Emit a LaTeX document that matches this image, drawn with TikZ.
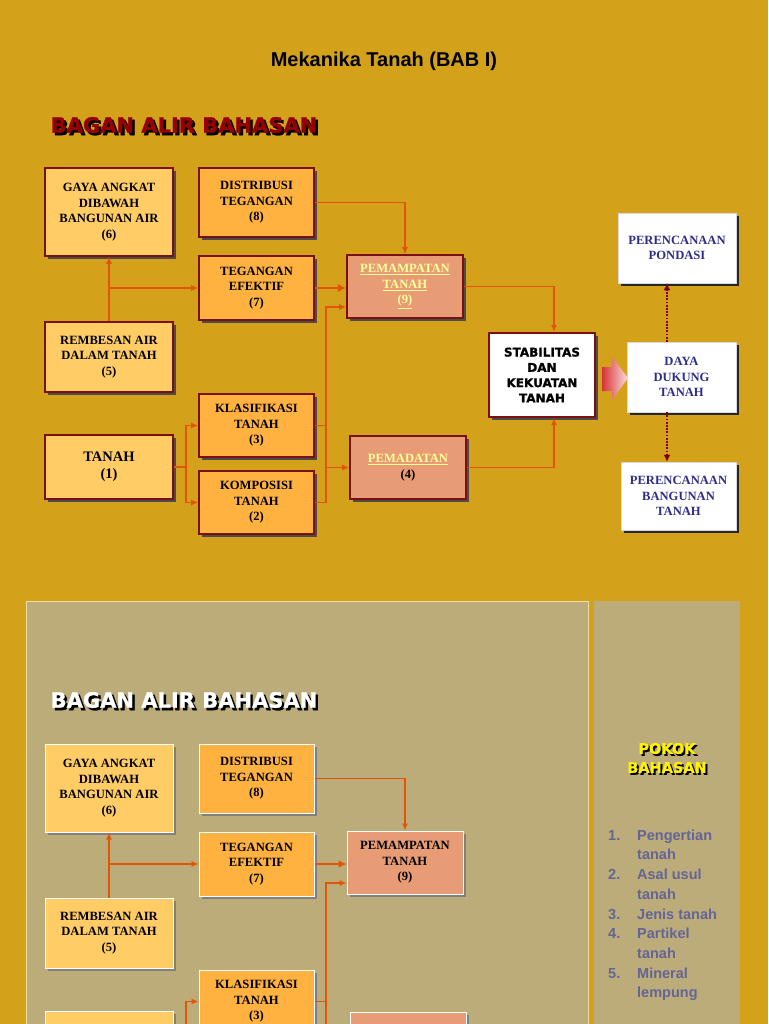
\documentclass[tikz,border=0pt]{standalone}
\usepackage{fontspec}
\setmainfont{Liberation Serif}
\setsansfont{Liberation Sans}
\newfontfamily\heavyfont[BoldFeatures={FakeBold=1.2}]{DejaVu Sans}
\usetikzlibrary{arrows.meta,shadows}

\definecolor{bgold}{RGB}{211,162,26}
\definecolor{paneltan}{RGB}{187,172,122}
\definecolor{panelrim}{RGB}{238,222,160}
\definecolor{boxlight}{RGB}{255,204,102}
\definecolor{boxmid}{RGB}{255,178,64}
\definecolor{boxsalmon}{RGB}{232,156,118}
\definecolor{boxrim}{RGB}{122,16,16}
\definecolor{linkred}{RGB}{226,84,8}
\definecolor{navytext}{RGB}{46,46,138}
\definecolor{listgray}{RGB}{100,100,150}
\definecolor{titlered}{RGB}{150,0,0}
\definecolor{dotred}{RGB}{128,0,0}
\definecolor{paleyel}{RGB}{255,255,153}

\tikzset{
  box/.style={draw=boxrim, line width=1.6pt, align=center, inner sep=0pt,
    font=\bfseries\fontsize{12.6}{15.5}\selectfont,
    drop shadow={shadow xshift=3pt, shadow yshift=-3pt, fill=black!70, opacity=1}},
  boxlow/.style={box, draw=white, line width=1pt,
    drop shadow={shadow xshift=3pt, shadow yshift=-3pt, fill=black!50, opacity=1}},
  lightbox/.style={fill=boxlight},
  midbox/.style={fill=boxmid},
  salmonbox/.style={fill=boxsalmon},
  whitebox/.style={box, fill=white, draw=white!85!black, line width=0.5pt,
    text=navytext, font=\bfseries\fontsize{12.6}{15.5}\selectfont,
    drop shadow={shadow xshift=3pt, shadow yshift=-3pt, fill=black!85, opacity=1}},
  link/.style={draw=linkred, line width=1.3pt, -{Latex[length=7pt,width=6pt]}},
  railline/.style={draw=linkred, line width=1.3pt},
  dotlink/.style={draw=dotred, line width=1.8pt, dash pattern=on 1.8pt off 1.4pt,
    -{Latex[length=7pt,width=7pt]}},
  bigarrow/.style={left color={rgb,255:red,214;green,52;blue,52},
    right color={rgb,255:red,252;green,222;blue,222}},
  heavytitle/.style={font=\heavyfont\bfseries\fontsize{21}{24}\selectfont},
}

\begin{document}
\begin{tikzpicture}[x=1pt,y=1pt,yscale=-1,xscale=1]
\useasboundingbox (0,0) rectangle (768,1024);
\fill[bgold] (0,0) rectangle (768,1024);

%Panels
\fill[paneltan] (594,601) rectangle (740,1024);
\filldraw[fill=paneltan, draw=panelrim, line width=1pt] (26,601) rectangle (588,1030);

% Title
\node[font=\sffamily\bfseries\fontsize{20}{24}\selectfont] (judul) at (384,61) {Mekanika Tanah (BAB I)};
\node[heavytitle, text=black] (baganshadow) at (186.5,127.5) {BAGAN ALIR BAHASAN};
\node[heavytitle, text=titlered] (bagan) at (184,125) {BAGAN ALIR BAHASAN};

% Boxes
\node[box, lightbox, minimum width=128pt, minimum height=88pt] (gaya) at (109,212) {GAYA ANGKAT\\DIBAWAH\\BANGUNAN AIR\\(6)};
\node[box, midbox, minimum width=115pt, minimum height=69pt] (distr) at (256.5,202.5) {DISTRIBUSI\\TEGANGAN\\(8)};
\node[box, midbox, minimum width=115pt, minimum height=64pt] (tegef) at (256.5,288) {TEGANGAN\\EFEKTIF\\(7)};
\node[box, salmonbox, text=paleyel, minimum width=116pt, minimum height=63pt] (pemam) at (405,286.5) {\underline{PEMAMPATAN}\\\underline{TANAH}\\\underline{(9)}};
\node[box, lightbox, minimum width=128pt, minimum height=70pt] (rembes) at (109,357) {REMBESAN AIR\\DALAM TANAH\\(5)};
\node[box, midbox, minimum width=115pt, minimum height=63pt] (klas) at (256.5,425.5) {KLASIFIKASI\\TANAH\\(3)};
\node[box, lightbox, minimum width=128pt, minimum height=64pt, font=\bfseries\fontsize{14.5}{17}\selectfont] (tanah) at (109,467) {TANAH\\(1)};
\node[box, midbox, minimum width=115pt, minimum height=63pt] (kompo) at (256.5,502.5) {KOMPOSISI\\TANAH\\(2)};
\node[box, salmonbox, text=paleyel, minimum width=116pt, minimum height=63pt] (pemad) at (408,467.5) {\underline{PEMADATAN}\\\textcolor{black}{(4)}};
\node[box, fill=white, line width=2pt, minimum width=106pt, minimum height=84pt, font=\heavyfont\bfseries\fontsize{12}{15.3}\selectfont] (stab) at (542,375) {STABILITAS\\DAN\\KEKUATAN\\TANAH};
\node[whitebox, minimum width=118pt, minimum height=70pt] (pondasi) at (677,248) {PERENCANAAN\\PONDASI};
\node[whitebox, minimum width=109pt, minimum height=70pt] (daya) at (681.5,377) {DAYA\\DUKUNG\\TANAH};
\node[whitebox, minimum width=115pt, minimum height=68pt] (bangun) at (678.5,496) {PERENCANAAN\\BANGUNAN\\TANAH};

% Connectors
\coordinate (split) at (186,467);
\coordinate (rail) at (326,307);
\draw[link] (distr.east) -| (pemam.north);
\draw[link] (rembes.north) -- (gaya.south);
\draw[link] (rembes.north |- tegef.west) -- (tegef.west);
\draw[link, line width=2.6pt, -{Latex[length=8pt,width=8pt]}] (tegef.east) -- (tegef.east -| pemam.west);
\draw[railline] (tanah.east) -- (split);
\draw[link] (split) |- (klas.west);
\draw[link] (split) |- (kompo.west);
\draw[railline] (klas.east) -- (klas.east -| rail);
\draw[link] (kompo.east) -| (rail) -- (rail -| pemam.west);
\draw[link] (rail |- pemad.west) -- (pemad.west);
\draw[link] (pemam.east) -| ([xshift=12pt]stab.north);
\draw[link] (pemad.east) -| ([xshift=12pt]stab.south);
\draw[dotlink] ([xshift=-14.5pt]daya.north) -- ([xshift=-14.5pt]daya.north |- pondasi.south);
\draw[dotlink] ([xshift=-14.5pt]daya.south) -- ([xshift=-14.5pt]daya.south |- bangun.north);

% Big arrow
\shade[bigarrow] (602,367) -- (612,367) -- (612,357) -- (628,378) -- (612,400) -- (612,391) -- (602,391) -- cycle;

% Lower panel
\node[heavytitle, text=black] (bagan2shadow) at (186.5,702.5) {BAGAN ALIR BAHASAN};
\node[heavytitle, text=white] (bagan2) at (184,700) {BAGAN ALIR BAHASAN};

\begin{scope}
\clip (26.5,601.5) rectangle (587.5,1024);
\node[boxlow, lightbox, minimum width=128pt, minimum height=88pt] (gaya2) at (109,788) {GAYA ANGKAT\\DIBAWAH\\BANGUNAN AIR\\(6)};
\node[boxlow, midbox, minimum width=115pt, minimum height=69pt] (distr2) at (256.5,778.5) {DISTRIBUSI\\TEGANGAN\\(8)};
\node[boxlow, midbox, minimum width=115pt, minimum height=64pt] (tegef2) at (256.5,864) {TEGANGAN\\EFEKTIF\\(7)};
\node[boxlow, salmonbox, minimum width=116pt, minimum height=63pt] (pemam2) at (405,862.5) {PEMAMPATAN\\TANAH\\(9)};
\node[boxlow, lightbox, minimum width=128pt, minimum height=70pt] (rembes2) at (109,933) {REMBESAN AIR\\DALAM TANAH\\(5)};
\node[boxlow, midbox, minimum width=115pt, minimum height=63pt] (klas2) at (256.5,1001.5) {KLASIFIKASI\\TANAH\\(3)};
\node[boxlow, lightbox, minimum width=128pt, minimum height=64pt, font=\bfseries\fontsize{14.5}{17}\selectfont] (tanah2) at (109,1043) {TANAH\\(1)};
\node[boxlow, midbox, minimum width=115pt, minimum height=63pt] (kompo2) at (256.5,1078.5) {KOMPOSISI\\TANAH\\(2)};
\node[boxlow, salmonbox, minimum width=116pt, minimum height=63pt] (pemad2) at (408,1043.5) {PEMADATAN\\(4)};

\coordinate (split2) at (186,1043);
\coordinate (rail2) at (326,883);
\draw[link] (distr2.east) -| (pemam2.north);
\draw[link] (rembes2.north) -- (gaya2.south);
\draw[link] (rembes2.north |- tegef2.west) -- (tegef2.west);
\draw[link, line width=2.6pt, -{Latex[length=8pt,width=8pt]}] (tegef2.east) -- (tegef2.east -| pemam2.west);
\draw[railline] (tanah2.east) -- (split2);
\draw[link] (split2) |- (klas2.west);
\draw[link] (split2) |- (kompo2.west);
\draw[railline] (klas2.east) -- (klas2.east -| rail2);
\draw[link] (kompo2.east) -| (rail2) -- (rail2 -| pemam2.west);
\draw[link] (rail2 |- pemad2.west) -- (pemad2.west);
\end{scope}

% Side panel
\node[font=\heavyfont\bfseries\fontsize{14.5}{19}\selectfont, align=center, text=black] (pokokshadow) at (669,760) {POKOK\\BAHASAN};
\node[font=\heavyfont\bfseries\fontsize{14.5}{19}\selectfont, align=center, text=yellow] (pokok) at (667,758) {POKOK\\BAHASAN};
\node[font=\sffamily\bfseries\fontsize{14.5}{19.7}\selectfont, align=left, text=listgray, inner sep=0pt, anchor=north west] (pokoklist) at (608,829.5)
  {\makebox[29pt][l]{1.}Pengertian\\\hspace*{29pt}tanah\\
   \makebox[29pt][l]{2.}Asal usul\\\hspace*{29pt}tanah\\
   \makebox[29pt][l]{3.}Jenis tanah\\
   \makebox[29pt][l]{4.}Partikel\\\hspace*{29pt}tanah\\
   \makebox[29pt][l]{5.}Mineral\\\hspace*{29pt}lempung};

\end{tikzpicture}
\end{document}
